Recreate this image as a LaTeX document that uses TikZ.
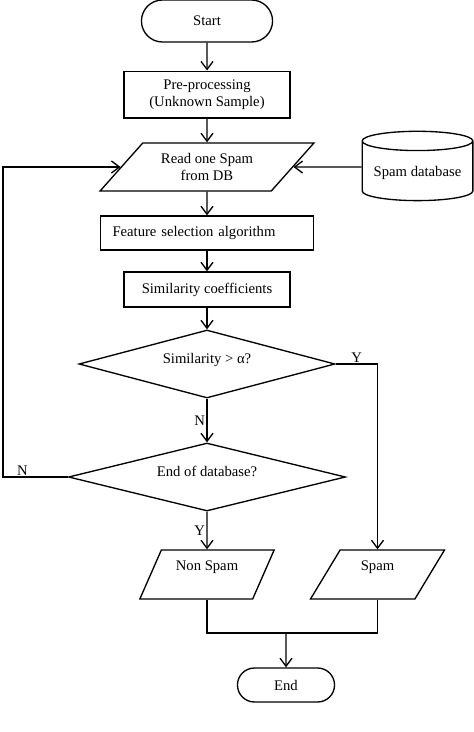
\documentclass[tikz,border=0pt]{standalone}
\usepackage{fontspec}
\setmainfont{Liberation Serif}
\usetikzlibrary{shapes.geometric,shapes.misc,arrows.meta}

\tikzset{
  terminal/.style={draw, rounded rectangle, minimum width=105pt, minimum height=31.5pt},
  procbox/.style={draw, rectangle, minimum width=124.5pt, minimum height=35pt, align=center},
  readbox/.style={draw, trapezium, trapezium left angle=47.5, trapezium right angle=132.5,
    trapezium stretches=true, minimum width=160.5pt, minimum height=36pt, align=center},
  outbox/.style={draw, trapezium, trapezium left angle=65, trapezium right angle=115,
    trapezium stretches=true, minimum width=101pt, minimum height=36.75pt, align=center},
  decision/.style={draw, diamond, inner sep=0pt, aspect=3.9, minimum height=51pt, text depth=8pt},
  dbase/.style={draw, cylinder, shape border rotate=90, aspect=0.2,
    minimum width=83pt, minimum height=52pt},
  yn/.style={inner sep=1pt}
}

\begin{document}
\begin{tikzpicture}[x=0.75pt, y=-0.75pt, line width=1pt,
    >={Straight Barb[length=6pt,width=9pt]},
    font=\fontsize{11}{13}\selectfont]
    \useasboundingbox (0,0) rectangle (474,732);

    % Define the positions of the nodes
    \node[terminal] (start) at (207,21) {Start};
    \node[procbox] (pre) at (207,94.5) {Pre-processing\\(Unknown Sample)};
    \node[readbox] (read) at (207,167) {Read one Spam\\from DB};
    \node[dbase] (db) at (417.5,173) {Spam database};
    \node[procbox, minimum width=159.75pt, minimum height=25.5pt, inner xsep=9pt,
      text width=141.75pt, align=left] (feat) at (207,233) {Feature selection algorithm};
    \node[procbox, minimum height=26.25pt] (sim) at (207,289.5) {Similarity coefficients};
    \node[decision, minimum width=192pt] (dec1) at (207,364) {Similarity > α?};
    \node[decision, minimum width=207.75pt] (dec2) at (207,477) {End of database?};
    \node[outbox] (nonspam) at (207,574.5) {Non Spam\\\mbox{}};
    \node[outbox] (spamout) at (377.5,574.5) {Spam\\\mbox{}};
    \node[terminal, minimum width=79.5pt, minimum height=25.5pt] (end) at (286,685) {End};

    \coordinate (back) at (3,477);
    \coordinate (merge) at (286,633);

    % Draw the edges
    \draw[->] (start) -- (pre);
    \draw[->] (pre) -- (read);
    \draw[->] (read) -- (feat);
    \draw[->] (feat) -- (sim);
    \draw[->] (sim) -- (dec1);
    \draw[->] (db.west |- read) -- (read);

    \draw[->] (dec1.east) -| node[yn, pos=0.25, above] {Y} (spamout);
    \draw[->] (dec1) -- node[yn, left] {N} (dec2);

    \draw[->] (dec2.west) -- node[yn, pos=0.7, above] {N} (back) |- (read);
    \draw[->] (dec2) -- node[yn, left] {Y} (nonspam);

    \draw (nonspam) |- (merge) -| (spamout);
    \draw[->] (merge) -- (end);
\end{tikzpicture}
\end{document}
